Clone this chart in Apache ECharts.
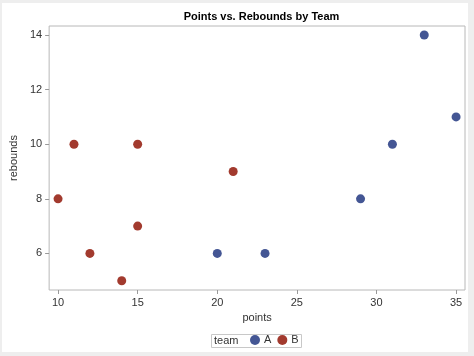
<!DOCTYPE html>
<html><head><meta charset="utf-8">
<script src="https://cdn.jsdelivr.net/npm/echarts@6/dist/echarts.min.js"></script>
<style>
html,body{margin:0;padding:0;background:#eeeeee;}
#frame{position:absolute;left:2px;top:3px;width:466px;height:349px;background:#fff;}
#c{position:absolute;left:-2px;top:-3px;width:474px;height:356px;}
</style></head>
<body><div id="frame"><div id="c"></div></div>
<script>
const titleText = 'Points vs. Rebounds by Team';
const teamA = [[20,6],[23,6],[29,8],[31,10],[33,14],[35,11]];
const teamB = [[10,8],[11,10],[12,6],[14,5],[15,10],[15,7],[21,9]];
const xTicks = [10,15,20,25,30,35];
const yTicks = [6,8,10,12,14];
const font = 'Liberation Sans, Arial, sans-serif';
const chart = echarts.init(document.getElementById('c'), null, {renderer:'canvas'});
chart.setOption({
  backgroundColor: 'transparent',
  animation: false,
  title: {text: titleText, left: 256.5, textAlign: 'center', top: 6,
    textStyle: {fontFamily: font, fontSize: 11, fontWeight: 'bold', color: '#000'}},
  grid: {left: 48, right: 9, top: 26, bottom: 66, show: true, borderColor: '#b8b8b8', borderWidth: 1, containLabel: false},
  xAxis: {type: 'value', min: 9.44, max: 35.56, name: 'points', nameLocation: 'middle', nameGap: 22,
    nameTextStyle: {fontFamily: font, fontSize: 11, color: '#333'},
    axisLine: {show: false}, splitLine: {show: false},
    axisTick: {show: true, length: 4, lineStyle: {color: '#999'}, customValues: xTicks},
    axisLabel: {fontFamily: font, fontSize: 11, color: '#333', margin: 7, customValues: xTicks}},
  yAxis: {type: 'value', min: 4.66, max: 14.33, name: 'rebounds', nameLocation: 'middle', nameGap: 26,
    nameTextStyle: {fontFamily: font, fontSize: 11, color: '#333'},
    axisLine: {show: false}, splitLine: {show: false},
    axisTick: {show: true, length: 4, lineStyle: {color: '#999'}, customValues: yTicks},
    axisLabel: {fontFamily: font, fontSize: 11, color: '#333', margin: 7, customValues: yTicks}},
  legend: {left: 250, top: 334.5, padding: 0, itemWidth: 10, itemHeight: 10, itemGap: 6, icon: 'circle',
    textStyle: {fontFamily: font, fontSize: 11, color: '#333', padding: [0,0,0,-1]},
    data: ['A','B']},
  graphic: [
    {type: 'rect', shape: {x: 211.5, y: 334.5, width: 90, height: 13}, style: {fill: 'none', stroke: '#c8c8c8', lineWidth: 1}},
    {type: 'text', x: 214, y: 341, style: {text: 'team', fontFamily: font, fontSize: 11, fill: '#333', verticalAlign: 'middle'}}
  ],
  series: [
    {name: 'A', type: 'scatter', data: teamA, symbolSize: 9, itemStyle: {color: '#445694', opacity: 1}},
    {name: 'B', type: 'scatter', data: teamB, symbolSize: 9, itemStyle: {color: '#A23A2E', opacity: 1}}
  ]
});
</script></body></html>
